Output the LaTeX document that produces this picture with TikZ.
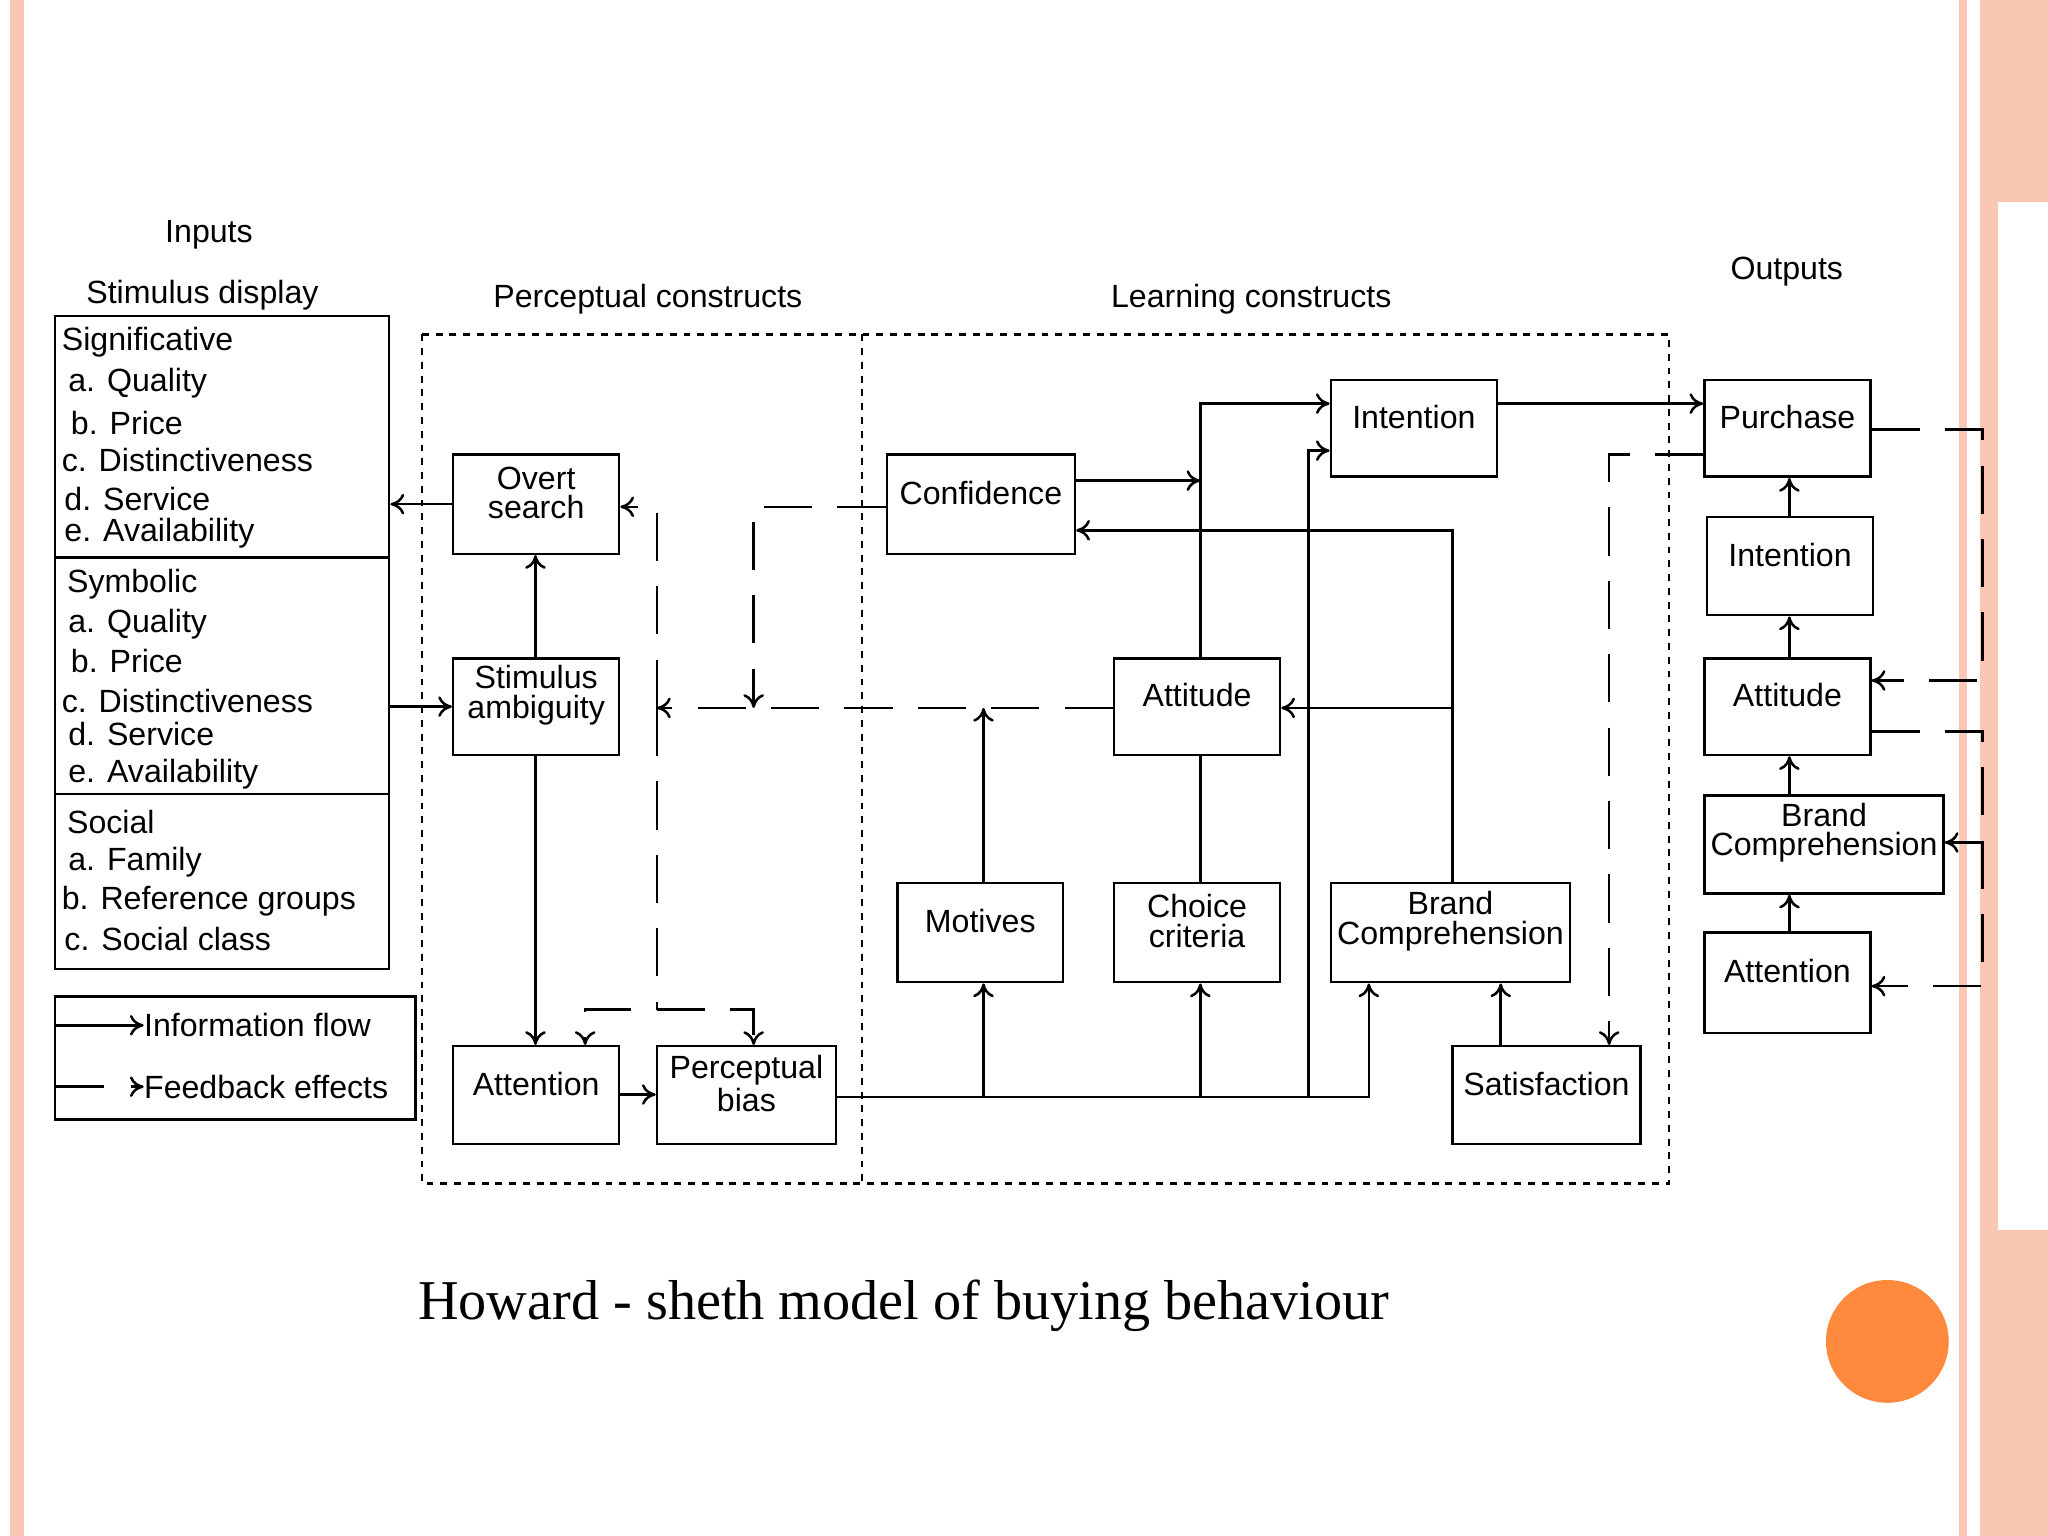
\documentclass[tikz,border=0pt]{standalone}
\usepackage{fontspec}
\setmainfont{Liberation Sans}
\newfontfamily\capfont{Liberation Serif}
\usetikzlibrary{fit,arrows.meta}
\definecolor{stripe}{HTML}{F9C7B3}
\definecolor{dot}{HTML}{FF8A3D}
\tikzset{
  box/.style={draw, line width=1.1pt, inner sep=0pt},
  lbl/.style={inner sep=0pt, font=\fontsize{14}{14}\selectfont},
  flow/.style={line width=1.1pt, -{To[length=6pt,width=9pt]}},
  plain/.style={line width=1.1pt},
  feed/.style={line width=1.1pt, dash pattern=on 21pt off 11pt, -{To[length=6pt,width=9pt]}},
  feedline/.style={line width=1.1pt, dash pattern=on 21pt off 11pt},
}
\begin{document}
\begin{tikzpicture}[x=0.02cm, y=-0.02cm, font={\fontsize{14}{13}\selectfont}]
  \useasboundingbox (0,0) rectangle (1568,1176);
  % slide decoration
  \fill[stripe] (8,0) rectangle (18,1176);
  \fill[stripe] (1500,0) rectangle (1506,1176);
  \fill[stripe] (1516,0) rectangle (1568,1176);
  \fill[white] (1530,155) rectangle (1568,942);
  \fill[dot] (1445,1027) circle (47);

  % headings
  \node[lbl] (inputs) at (160,180) {Inputs};
  \node[lbl] (display) at (155,226) {Stimulus display};
  \node[lbl] (perc) at (496,229) {Perceptual constructs};
  \node[lbl] (learn) at (958,229) {Learning constructs};
  \node[lbl] (outputs) at (1368,208) {Outputs};

  % stimulus display
  \node[box, fit={(42,242)(298,742)}] (stim) {};
  \draw[plain] (42,427) -- (298,427) (42,608) -- (298,608);
  \node[lbl, anchor=west] at (47,262) {Significative};
  \node[lbl, anchor=west] at (52,293) {a. Quality};
  \node[lbl, anchor=west] at (54,324) {b. Price};
  \node[lbl, anchor=west] at (47,352) {c. Distinctiveness};
  \node[lbl, anchor=west] at (49,382) {d. Service};
  \node[lbl, anchor=west] at (49,408) {e. Availability};
  \node[lbl, anchor=west] at (51,447) {Symbolic};
  \node[lbl, anchor=west] at (52,478) {a. Quality};
  \node[lbl, anchor=west] at (54,506) {b. Price};
  \node[lbl, anchor=west] at (47,537) {c. Distinctiveness};
  \node[lbl, anchor=west] at (52,562) {d. Service};
  \node[lbl, anchor=west] at (52,593) {e. Availability};
  \node[lbl, anchor=west] at (51,629) {Social};
  \node[lbl, anchor=west] at (52,660) {a. Family};
  \node[lbl, anchor=west] at (47,690) {b. Reference groups};
  \node[lbl, anchor=west] at (49,719) {c. Social class};

  % legend
  \node[box, fit={(42,763)(318,857)}] (legend) {};
  \coordinate (l1) at (42,785);
  \coordinate (l2) at (42,832);
  \node[lbl, anchor=west] (infoflow) at (110,785) {Information flow};
  \node[lbl, anchor=west] (feedback) at (110,832) {Feedback effects};
  \draw[flow] (l1) -- (infoflow.west);
  \draw[plain] (l2) -- (80,832);
  \draw[flow] (100,832) -- (feedback.west);

  % construct frames
  \draw[line width=1pt, dashed] (323,256) rectangle (1278,906);
  \draw[line width=1pt, dashed] (660,256) -- (660,906);

  % perceptual
  \node[box, fit={(347,348)(474,424)}, align=center] (overt) {Overt\\search};
  \node[box, fit={(347,504)(474,578)}, align=center] (ambig) {Stimulus\\ambiguity};
  \node[box, fit={(347,801)(474,876)}] (attn) {Attention};
  \node[box, fit={(503,801)(640,876)}, align=center] (bias) {Perceptual\\bias};

  % learning
  \node[box, fit={(679,348)(823,424)}] (conf) {Confidence};
  \node[box, fit={(1019,291)(1146,365)}] (intent) {Intention};
  \node[box, fit={(853,504)(980,578)}] (att) {Attitude};
  \node[box, fit={(687,676)(814,752)}] (motives) {Motives};
  \node[box, fit={(853,676)(980,752)}, align=center] (choice) {Choice\\criteria};
  \node[box, fit={(1019,676)(1202,752)}, align=center] (brand) {Brand\\Comprehension};
  \node[box, fit={(1112,801)(1256,876)}] (satis) {Satisfaction};

  % outputs
  \node[box, fit={(1305,291)(1432,365)}] (opurch) {Purchase};
  \node[box, fit={(1307,396)(1434,471)}] (ointent) {Intention};
  \node[box, fit={(1305,504)(1432,578)}] (oatt) {Attitude};
  \node[box, fit={(1305,609)(1488,684)}, align=center] (obrand) {Brand\\Comprehension};
  \node[box, fit={(1305,714)(1432,791)}] (oattn) {Attention};

  % information flow
  \draw[flow] (overt.west |- 0,386) -- (stim.east |- 0,386);
  \draw[flow] (stim.east |- 0,541) -- (ambig.west |- 0,541);
  \draw[flow] (ambig.north -| 410,0) -- (overt.south -| 410,0);
  \draw[flow] (ambig.south -| 410,0) -- (attn.north -| 410,0);
  \draw[flow] (attn.east |- 0,838) -- (bias.west |- 0,838);
  \draw[flow] (bias.east |- 0,840) -- (1048,840) -- (brand.south -| 1048,0);
  \draw[flow] (753,840) -- (motives.south -| 753,0);
  \draw[flow] (919,840) -- (choice.south -| 919,0);
  \draw[flow] (1002,840) -- (1002,345) -- (intent.west |- 0,345);
  \draw[flow] (motives.north -| 753,0) -- (753,542);
  \draw[plain] (choice.north -| 919,0) -- (att.south -| 919,0);
  \draw[flow] (att.north -| 919,0) -- (919,309) -- (intent.west |- 0,309);
  \draw[flow] (conf.east |- 0,368) -- (919,368);
  \draw[flow] (brand.north -| 1112,0) -- (1112,406) -- (conf.east |- 0,406);
  \draw[flow] (1112,542) -- (att.east |- 0,542);
  \draw[flow] (satis.north -| 1149,0) -- (brand.south -| 1149,0);
  \draw[flow] (intent.east |- 0,309) -- (opurch.west |- 0,309);
  \draw[flow] (ointent.north -| 1370,0) -- (opurch.south -| 1370,0);
  \draw[flow] (oatt.north -| 1370,0) -- (ointent.south -| 1370,0);
  \draw[flow] (obrand.north -| 1370,0) -- (oatt.south -| 1370,0);
  \draw[flow] (oattn.north -| 1370,0) -- (obrand.south -| 1370,0);

  % feedback effects
  \draw[feed] (opurch.west |- 0,348) -- (1232,348) -- (satis.north -| 1232,0);
  \draw[feed] (opurch.east |- 0,329) -- (1518,329) -- (1518,521) -- (oatt.east |- 0,521);
  \draw[feed] (oatt.east |- 0,560) -- (1518,560) -- (1518,755) -- (oattn.east |- 0,755);
  \draw[feed] (1518,645) -- (obrand.east |- 0,645);
  \draw[feed] (att.west |- 0,542) -- (503,542);
  \draw[feed] (conf.west |- 0,388) -- (577,388) -- (577,542);
  \draw[feed] (503,542) -- (503,388) -- (overt.east |- 0,388);
  \draw[feedline] (503,542) -- (503,773);
  \draw[feed] (503,773) -- (577,773) -- (bias.north -| 577,0);
  \draw[feed] (483,773) -- (448,773) -- (attn.north -| 448,0);

  % caption
  \node[inner sep=0pt, font={\capfont\fontsize{24.5}{24.5}\selectfont}] (caption) at (692,1000) {Howard - sheth model of buying behaviour};
\end{tikzpicture}
\end{document}
